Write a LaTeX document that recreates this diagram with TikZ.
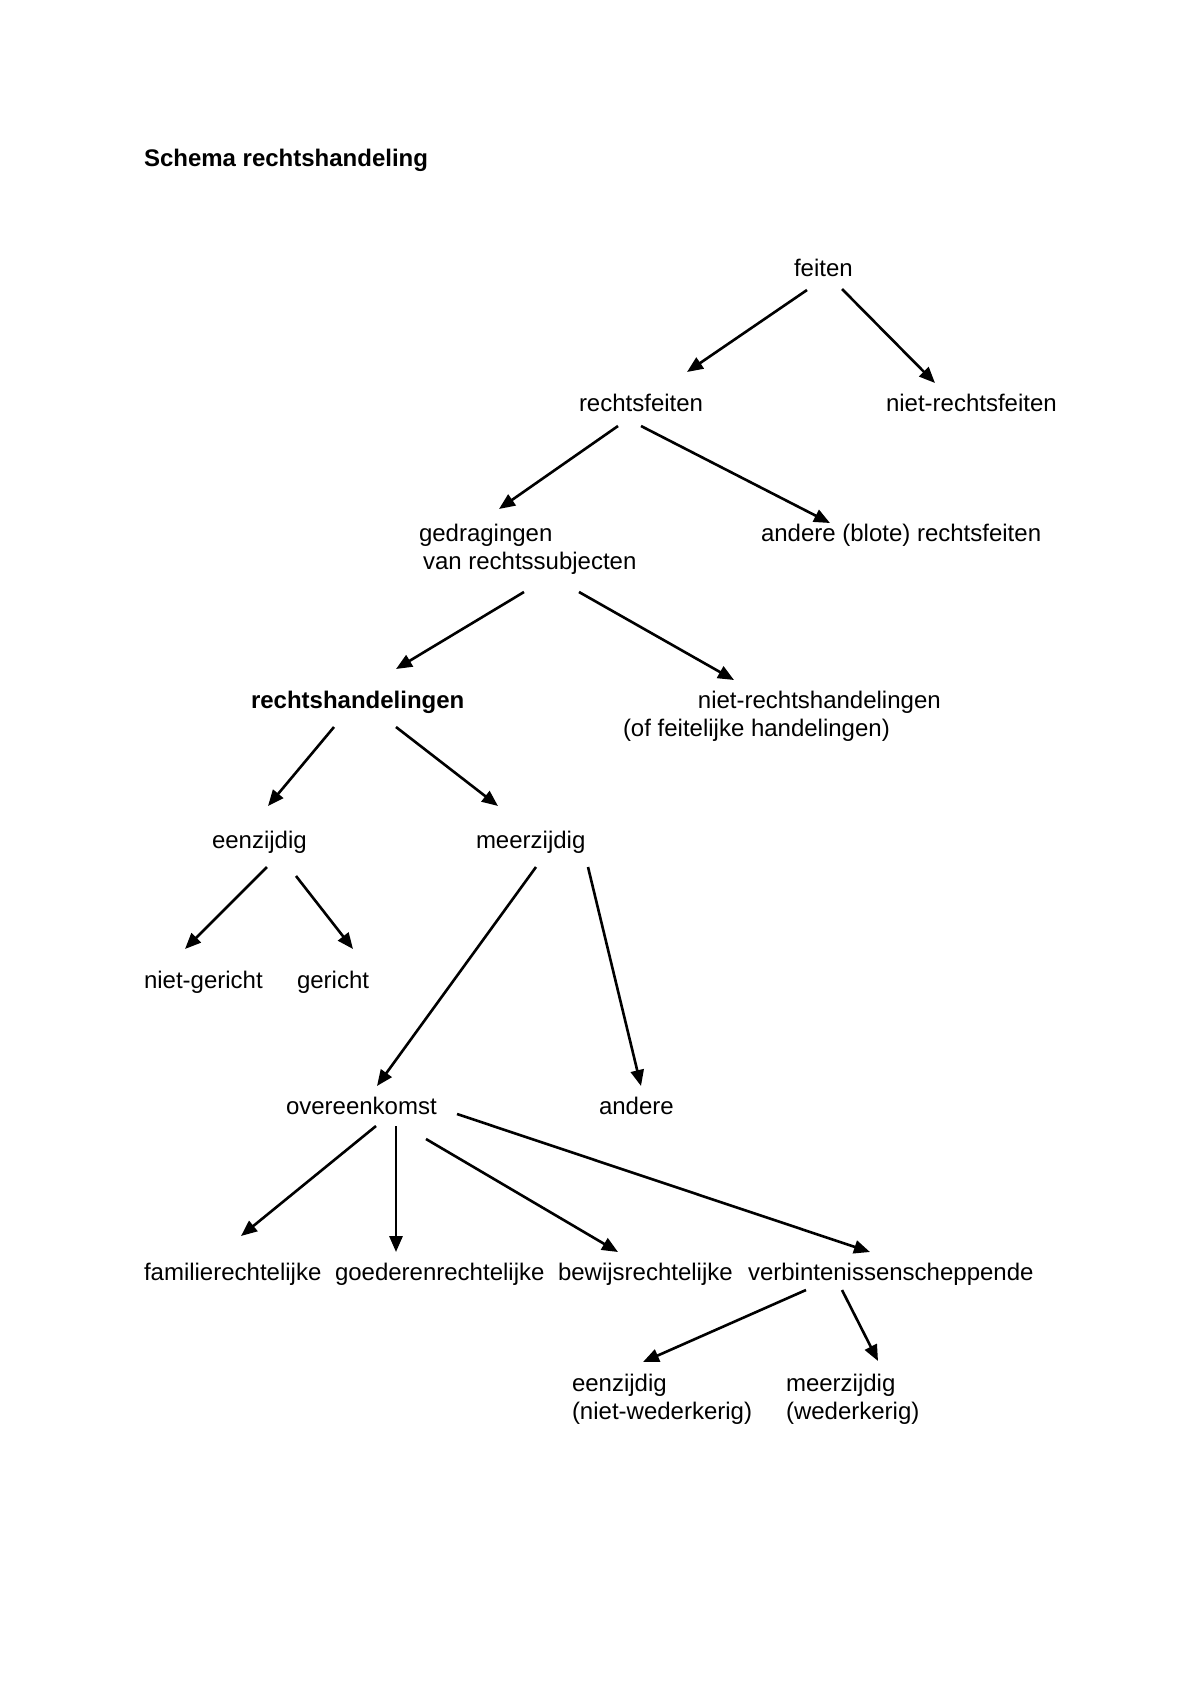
\documentclass[tikz,border=0pt]{standalone}
\usepackage{fontspec}
\setmainfont{Liberation Sans}
\usetikzlibrary{arrows.meta}
\tikzset{
  txt/.style={anchor=base west, inner sep=0pt, outer sep=0pt, align=left,
    font=\fontsize{11.95}{13.94}\selectfont},
  btxt/.style={txt, font=\fontsize{11.95}{13.94}\selectfont\bfseries},
  arr/.style={line width=1.3pt, -{Triangle[length=2.8mm,width=2.3mm]}}
}
\begin{document}
\begin{tikzpicture}[x=0.175mm, y=-0.175mm]
\useasboundingbox[fill=white] (0,0) rectangle (1200,1698);

\node[btxt] (title) at (144,166) {Schema rechtshandeling};
\node[txt] (feiten) at (794,276) {feiten};
\node[txt] (rf) at (579,411) {rechtsfeiten};
\node[txt] (nrf) at (886,411) {niet-rechtsfeiten};
\node[txt] (ged) at (419,569) {gedragingen\\\hspace*{2pt}van rechtssubjecten};
\node[txt] (abr) at (761,541) {andere (blote) rechtsfeiten};
\node[btxt] (rh) at (251,708) {rechtshandelingen};
\node[txt] (nrh) at (623,736) {\hspace*{37.3pt}niet-rechtshandelingen\\(of feitelijke handelingen)};
\node[txt] (ez) at (212,848) {eenzijdig};
\node[txt] (mz) at (476,848) {meerzijdig};
\node[txt] (ng) at (144,988) {niet-gericht};
\node[txt] (ger) at (297,988) {gericht};
\node[txt] (ov) at (286,1114) {overeenkomst};
\node[txt] (and) at (599,1114) {andere};
\node[txt] (fam) at (144,1280) {familierechtelijke};
\node[txt] (goe) at (335,1280) {goederenrechtelijke};
\node[txt] (bew) at (558,1280) {bewijsrechtelijke};
\node[txt] (ver) at (748,1280) {verbintenissenscheppende};
\node[txt] (ez2) at (572,1419) {eenzijdig\\(niet-wederkerig)};
\node[txt] (mz2) at (786,1419) {meerzijdig\\(wederkerig)};

\draw[arr] ([shift={(13,14)}]feiten.base west) -- ([shift={(108,-39)}]rf.base west);
\draw[arr] ([shift={(48,13)}]feiten.base west) -- ([shift={(49,-28)}]nrf.base west);
\draw[arr] ([shift={(39,15)}]rf.base west) -- ([shift={(80,-60)}]ged.base west);
\draw[arr] ([shift={(62,15)}]rf.base west) -- ([shift={(69,-18)}]abr.base west);
\draw[arr] ([shift={(105,23)}]ged.base west) -- ([shift={(145,-39)}]rh.base west);
\draw[arr] ([shift={(160,23)}]ged.base west) -- ([shift={(111,-56)}]nrh.base west);
\draw[arr] ([shift={(83,19)}]rh.base west) -- ([shift={(56,-42)}]ez.base west);
\draw[arr] ([shift={(145,19)}]rh.base west) -- ([shift={(22,-42)}]mz.base west);
\draw[arr] ([shift={(55,19)}]ez.base west) -- ([shift={(41,-39)}]ng.base west);
\draw[arr] ([shift={(84,28)}]ez.base west) -- ([shift={(56,-39)}]ger.base west);
\draw[arr] ([shift={(60,19)}]mz.base west) -- ([shift={(91,-28)}]ov.base west);
\draw[arr] ([shift={(112,19)}]mz.base west) -- ([shift={(42,-28)}]and.base west);
\draw[arr] ([shift={(90,12)}]ov.base west) -- ([shift={(97,-44)}]fam.base west);
\draw[arr] ([shift={(110,12)}]ov.base west) -- ([shift={(61,-28)}]goe.base west);
\draw[arr] ([shift={(140,25)}]ov.base west) -- ([shift={(60,-28)}]bew.base west);
\draw[arr] ([shift={(171,0)}]ov.base west) -- ([shift={(122,-28)}]ver.base west);
\draw[arr] ([shift={(58,10)}]ver.base west) -- ([shift={(71,-57)}]ez2.base west);
\draw[arr] ([shift={(94,10)}]ver.base west) -- ([shift={(92,-58)}]mz2.base west);
\end{tikzpicture}
\end{document}
